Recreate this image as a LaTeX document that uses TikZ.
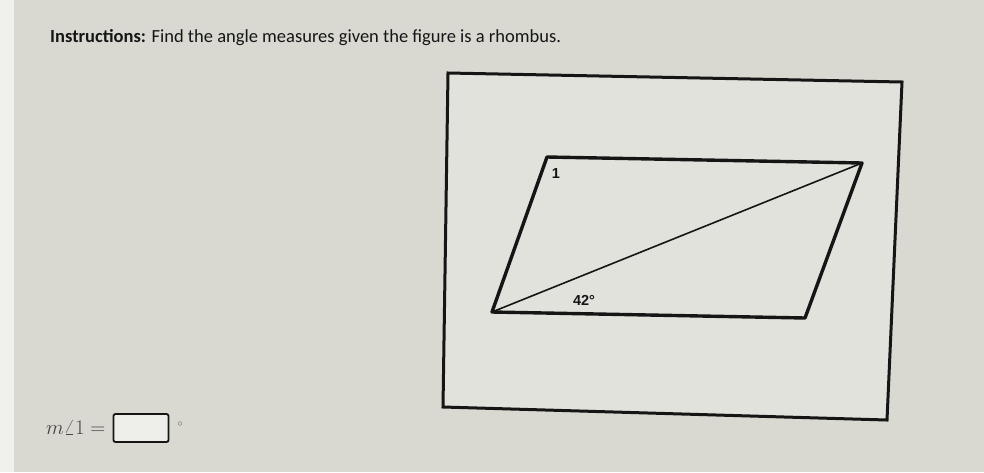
\documentclass[tikz,border=0pt]{standalone}
\usepackage{fontspec}
\newfontfamily\uifont{Carlito}
\newfontfamily\figfont{Liberation Sans}
\definecolor{bg}{HTML}{D9D9D1}
\definecolor{panel}{HTML}{E2E2DD}
\definecolor{ink}{HTML}{151515}
\tikzset{
  frame/.style={draw=ink, line width=3pt, fill=panel},
  edge/.style={draw=ink, line width=3.4pt, line join=round},
  diag/.style={draw=ink, line width=1.6pt},
  figlabel/.style={font=\figfont\fontsize{14.5}{16}\selectfont\bfseries, text=ink, inner sep=0pt},
  uitext/.style={font=\uifont\fontsize{18.5}{22}\selectfont, text=ink, inner sep=0pt, anchor=base west},
}
\begin{document}
\begin{tikzpicture}[x=1pt,y=-1pt]
\useasboundingbox (0,0) rectangle (984,472);
\fill[bg] (0,0) rectangle (984,472);
\fill[white!60!bg] (0,0) rectangle (14,472);
% instructions
\node[uitext] (instr) at (50,42) {\textbf{Instructions:} Find the angle measures given the figure is a rhombus.};
% outer frame
\coordinate (f1) at (448,73);
\coordinate (f2) at (902,82);
\coordinate (f3) at (887,420);
\coordinate (f4) at (443,407);
\path[frame] (f1) -- (f2) -- (f3) -- (f4) -- cycle;
% rhombus
\coordinate (A) at (492,312);
\coordinate (B) at (547,157);
\coordinate (C) at (862,163);
\coordinate (D) at (805,318);
\path[edge] (A) -- (B) -- (C) -- (D) -- cycle;
\path[diag] (A) -- (C);
\node[figlabel] (one) at (556,174) {1};
\node[figlabel] (ang) at (584,300) {42\textdegree};
% answer line
\node[font=\fontsize{20}{24}\selectfont, text=ink!80, inner sep=0pt, anchor=base west] (m1) at (46,434) {$m\angle 1 =$};
\node[draw=ink, line width=1.8pt, rounded corners=2pt, fill=panel!60!white, minimum width=55pt, minimum height=28pt, inner sep=0pt] (box) at (141,428) {};
\node[font=\fontsize{10}{10}\selectfont, text=ink!70, inner sep=0pt] (deg) at (180,424) {$\circ$};
\end{tikzpicture}
\end{document}
